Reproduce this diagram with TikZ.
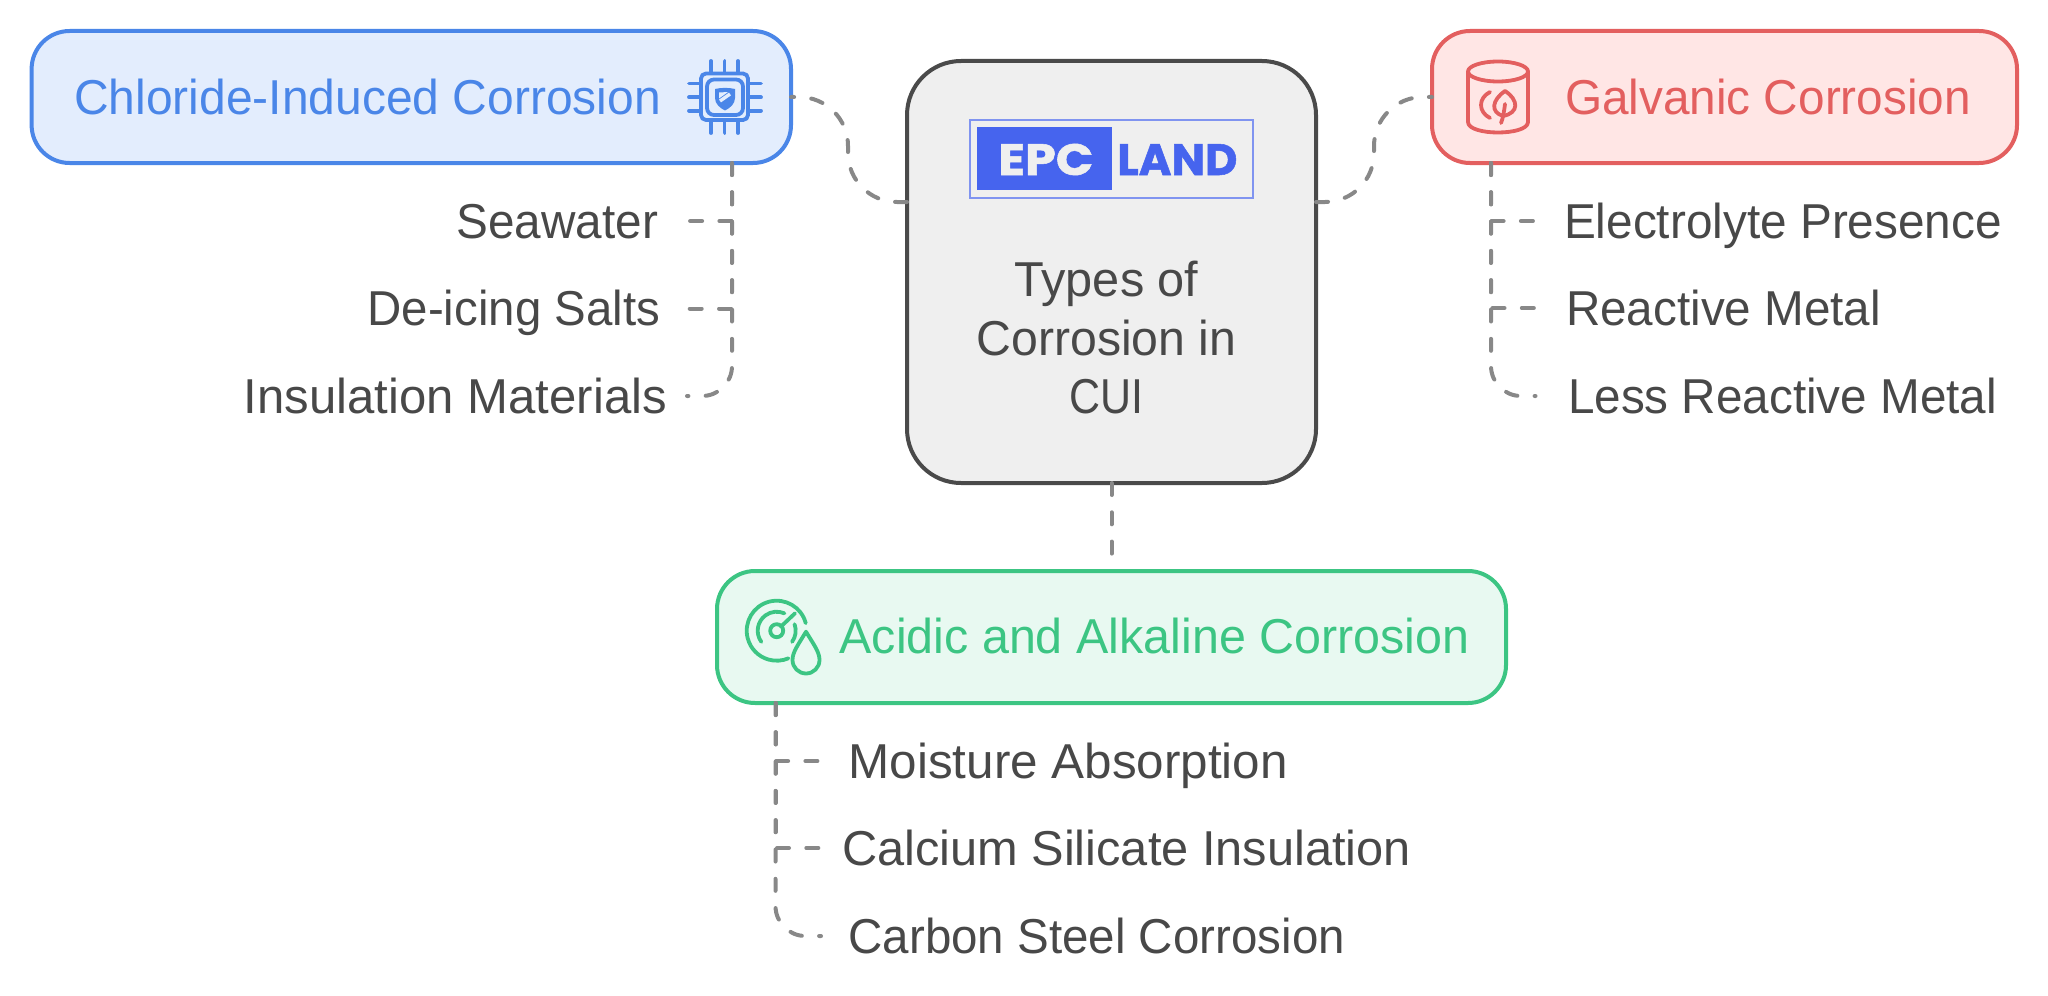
\documentclass[tikz,border=0pt]{standalone}
\usepackage{graphicx}
\usepackage{fontspec}
\setmainfont{Liberation Sans}
\newfontfamily\logofont{Poppins}[BoldFeatures={FakeBold=1.2}]
\newcommand\fw[2]{\resizebox{#1pt}{\height}{#2}}
\definecolor{cblue}{HTML}{4A86E8}
\definecolor{fblue}{HTML}{E3EDFD}
\definecolor{cred}{HTML}{E35F5F}
\definecolor{fred}{HTML}{FFE6E5}
\definecolor{cgreen}{HTML}{3CC583}
\definecolor{fgreen}{HTML}{E8F9F1}
\definecolor{cdark}{HTML}{4A4A4A}
\definecolor{fgrey}{HTML}{EFEFEF}
\definecolor{ctext}{HTML}{484848}
\definecolor{cline}{HTML}{888888}
\definecolor{clogo}{HTML}{4664EE}
\definecolor{clogob}{HTML}{8094F0}
\tikzset{
  x=0.5pt,y=-0.5pt,
  panel/.style={draw,line width=2pt,rounded corners=19pt,inner sep=0,outer sep=0},
  title/.style={anchor=base west,inner sep=0,outer sep=0,font=\fontsize{24.5}{28}\selectfont},
  ctr/.style={inner sep=0,anchor=base,text=ctext,font=\fontsize{24.5}{28}\selectfont},
  logotext/.style={inner sep=0,anchor=base west,font=\logofont\bfseries\fontsize{22}{26}\selectfont},
  item/.style={inner sep=0,outer sep=0,text=ctext,text height=20pt,text depth=3pt,font=\fontsize{24.5}{28}\selectfont},
  conn/.style={draw=cline,line width=2pt,line cap=round,dash pattern=on 6pt off 8.65pt},
  ico/.style={line width=1.9pt,line cap=round,line join=round},
}
\begin{document}
\begin{tikzpicture}
\useasboundingbox (0,0) rectangle (2048,995);
% panels
\node[panel,draw=cblue,fill=fblue,minimum width=379.7pt,minimum height=66pt] (blue) at (411.3,97) {};
\node[panel,draw=cred,fill=fred,minimum width=292.5pt,minimum height=66pt] (red) at (1724.5,97) {};
\node[panel,draw=cgreen,fill=fgreen,minimum width=394.5pt,minimum height=66pt] (green) at (1111.5,637) {};
\node[panel,draw=cdark,fill=fgrey,rounded corners=27pt,minimum width=204.5pt,minimum height=211pt] (center) at (1111.5,272) {};
% logo
\draw[draw=clogob,line width=1pt] (969.5,119.5) rectangle (1253,198);
\fill[clogo] (977,127) rectangle (1112,190);
\node[logotext,text=fgrey] (logoa) at (998,175) {\fw{47.5}{EPC}};
\node[logotext,text=clogo] (logob) at (1117,175) {\fw{60}{LAND}};
% centre text
\node[ctr] (ct1) at (1106.5,296.7) {\fw{92}{Types of}};
\node[ctr] (ct2) at (1106.5,355) {\fw{130}{Corrosion in}};
\node[ctr] (ct3) at (1106.5,413) {\fw{37}{CUI}};
% titles
\node[title,text=cblue] (tb) at (74,114) {\fw{293.5}{Chloride-Induced Corrosion}};
\node[title,text=cred] (tr) at (1565,114) {\fw{203}{Galvanic Corrosion}};
\node[title,text=cgreen] (tg) at (839.5,653) {\fw{315}{Acidic and Alkaline Corrosion}};
% items
\node[item,anchor=east] (i1) at (689,221) {\fw{100.75}{Seawater}\hspace*{15.5pt}\null};
\node[item,anchor=east] (i2) at (689,308.5) {\fw{146.25}{De-icing Salts}\hspace*{14.5pt}\null};
\node[item,anchor=east] (i3) at (687,396) {\fw{211.5}{Insulation Materials}\hspace*{10pt}\null};
\node[item,anchor=west] (r1) at (1535,221) {\hspace*{14.5pt}\fw{219}{Electrolyte Presence}};
\node[item,anchor=west] (r2) at (1535,308) {\hspace*{15.5pt}\fw{157.5}{Reactive Metal}};
\node[item,anchor=west] (r3) at (1535.5,396) {\hspace*{16.25pt}\fw{214.5}{Less Reactive Metal}};
\node[item,anchor=west] (g1) at (820,761) {\hspace*{14.25pt}\fw{219.75}{Moisture Absorption}};
\node[item,anchor=west] (g2) at (820,848) {\hspace*{11pt}\fw{284.5}{Calcium Silicate Insulation}};
\node[item,anchor=west] (g3) at (821,936) {\hspace*{13.75pt}\fw{248.25}{Carbon Steel Corrosion}};
% trunk helpers
\coordinate (bx) at (732,0);
\coordinate (rx) at (1491,0);
\coordinate (gx) at (775.5,0);
\coordinate (lx) at (848,0);
\coordinate (mx) at (1374,0);
\coordinate (cw) at ([yshift=35pt]center.west);
\coordinate (ce) at ([yshift=35pt]center.east);
% connectors
\draw[conn,rounded corners=24.5pt] (cw) -- (lx |- cw) -- (blue.east -| lx) -- (blue.east);
\draw[conn,rounded corners=24.5pt] (ce) -- (mx |- ce) -- (red.west -| mx) -- (red.west);
\draw[conn] (center.south) -- ([yshift=1pt]green.north);
\draw[conn] (blue.south -| bx) |- (i1.east);
\draw[conn] (blue.south -| bx) |- (i2.east);
\draw[conn,rounded corners=15pt] (blue.south -| bx) |- (i3.east);
\draw[conn] (red.south -| rx) |- (r1.west);
\draw[conn] (red.south -| rx) |- (r2.west);
\draw[conn,rounded corners=15pt] (red.south -| rx) |- (r3.west);
\draw[conn] (green.south -| gx) |- (g1.west);
\draw[conn] (green.south -| gx) |- (g2.west);
\draw[conn,rounded corners=15pt] (green.south -| gx) |- (g3.west);
% chip icon
\begin{scope}[ico,draw=cblue]
\draw[rounded corners=2.5pt] (701,73.5) rectangle (748,120);
\draw[rounded corners=3.5pt] (707,79.5) rectangle (743,115);
\foreach \p in {711,724.5,738}{\draw (\p,61) -- (\p,73); \draw (\p,120) -- (\p,133);}
\foreach \q in {83.5,97.3,110.7}{\draw (689,\q) -- (701,\q); \draw (748,\q) -- (761,\q);}
\fill[cblue] (715,89) .. controls (721,87.5) and (729,87.5) .. (735,89) -- (735,98) .. controls (735,104) and (730,108) .. (725,110.5) .. controls (720,108) and (715,104) .. (715,98) -- cycle;
\draw[fblue,line width=1.7pt,line cap=butt] (720,101) -- (730,94);
\fill[fblue] (719,92.5) -- (728,92) -- (719,98.5) -- cycle;
\end{scope}
% cylinder icon
\begin{scope}[ico,draw=cred]
\draw (1498,71.5) ellipse [x radius=30,y radius=10];
\draw (1468,71.5) -- (1468,122) .. controls (1468,136) and (1528,136) .. (1528,122) -- (1528,71.5);
\draw (1501,123) .. controls (1503,118) and (1504,112) .. (1505,104);
\draw (1503,116) .. controls (1490,112) and (1492,100) .. (1505,91) .. controls (1519,100) and (1519,113) .. (1503,116);
\draw (1490,92) .. controls (1478,98) and (1478,112) .. (1490,118);
\end{scope}
% gauge icon
\begin{scope}[ico,draw=cgreen]
\def\cx{776.7}\def\cy{630.7}
\draw ({\cx+30*cos(-14.5)},{\cy+30*sin(-14.5)}) arc [start angle=-14.5,end angle=-293,radius=30];
\draw ({\cx+19*cos(-216)},{\cy+19*sin(-216)}) arc [start angle=-216,end angle=-66,radius=19];
\draw ({\cx+19*cos(-20)},{\cy+19*sin(-20)}) arc [start angle=-20,end angle=36,radius=19];
\draw (\cx,\cy) circle [radius=6.5];
\draw (781,626.5) -- (795,613.3);
\draw (806,631.7) .. controls (798,645) and (792.5,652) .. (792.5,660) arc [start angle=180,end angle=0,radius=13.5] .. controls (819.5,652) and (814,645) .. (806,631.7) -- cycle;
\end{scope}
\end{tikzpicture}
\end{document}
